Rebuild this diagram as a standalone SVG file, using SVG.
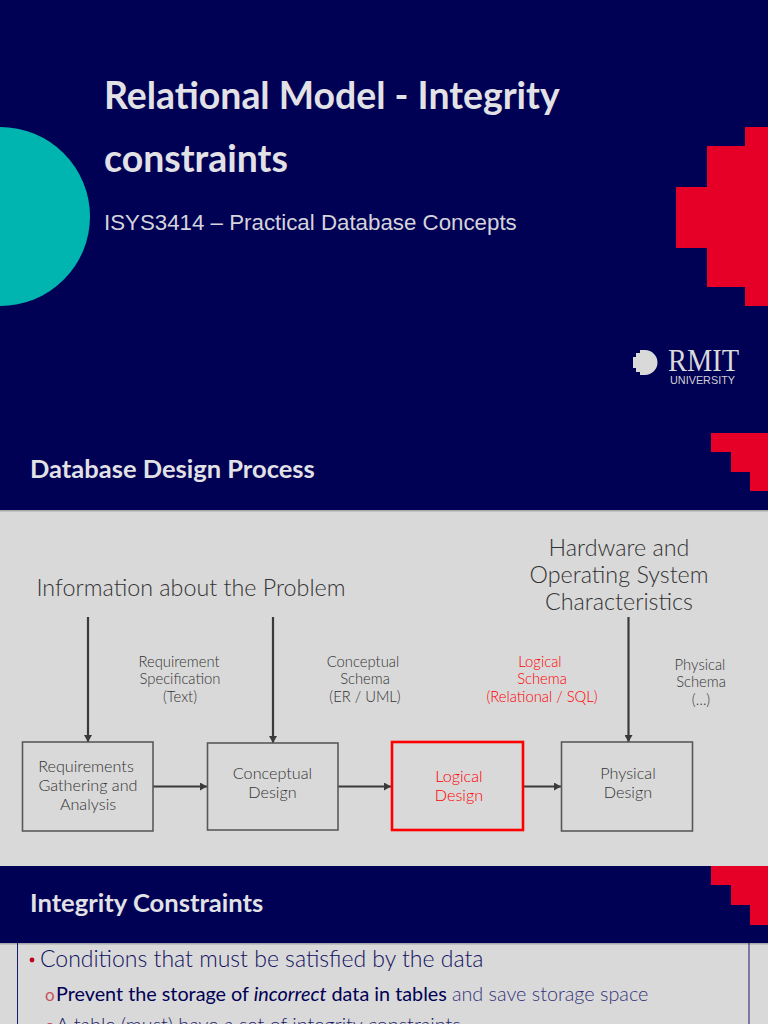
<svg xmlns="http://www.w3.org/2000/svg" width="768" height="1024" viewBox="0 0 768 1024">
<style>
.h{font-family:Lato,"Liberation Sans",sans-serif;font-weight:700;fill:#e2e2e6}
.b{font-family:Lato,"Liberation Sans",sans-serif;font-weight:300;fill:#333;text-anchor:middle;font-size:16.200px}
.s{font-size:14.800px}
.big{font-family:Lato,"Liberation Sans",sans-serif;font-weight:300;fill:#333;text-anchor:middle;font-size:23.300px}
.r{fill:#f00}
.box{fill:#d9d9d9;stroke:#595959;stroke-width:1.600}
.c{stroke:#3a3a3a;stroke-width:2.200;fill:none}
.red{fill:#e60028}
.l{font-family:Lato,sans-serif;font-size:19.800px}
</style>
<defs>
<marker id="a" markerUnits="userSpaceOnUse" markerWidth="8" markerHeight="8" refX="7" refY="4" orient="auto"><path d="M0 0L7 4L0 8z" fill="#3a3a3a"/></marker>
</defs>
<rect width="768" height="1024" fill="#d9d9d9"/>
<g id="slide1">
<rect width="768" height="510" fill="#000054"/>
<rect y="510" width="768" height="1.500" fill="#a8a8a8"/>
<path d="M0 127A90 89.500 0 0 1 0 306z" fill="#00b5b0"/>
<path class="red" d="M768 127H745V146H707V187H676V248H707V287H745V306H768z"/>
<text class="h" x="104" y="109" font-size="37.400">Relational Model - Integrity</text>
<text class="h" x="104" y="172" font-size="37.400">constraints</text>
<text x="104" y="230" font-family="Liberation Sans,sans-serif" font-size="22.300" fill="#d4d4da">ISYS3414 – Practical Database Concepts</text>
<g id="logo">
<path fill="#d9d9d9" d="M645 350A12.500 12.500 0 0 1 645 375H640V372H636V368H633V357H636V353H640V350z"/>
<text x="668" y="371" font-family="Liberation Serif,serif" font-size="31" textLength="71" lengthAdjust="spacingAndGlyphs" fill="#d9d9d9">RMIT</text>
<text x="670" y="384" font-family="Liberation Sans,sans-serif" font-size="10.500" textLength="65" lengthAdjust="spacingAndGlyphs" fill="#d0d0d4">UNIVERSITY</text>
</g>
<path class="red" d="M768 433H711V452H731V472H750V491H768z"/>
<text class="h" x="30" y="478" font-size="25.500">Database Design Process</text>
</g>
<g id="connectors">
<path class="c" marker-end="url(#a)" d="M88 617V742"/>
<path class="c" marker-end="url(#a)" d="M273 617V743"/>
<path class="c" marker-end="url(#a)" d="M628.500 617V742"/>
<path class="c" marker-end="url(#a)" d="M153 786.500H207"/>
<path class="c" marker-end="url(#a)" d="M338 786.500H391"/>
<path class="c" marker-end="url(#a)" d="M524 786.500H561"/>
</g>
<g id="info-problem"><text class="big" x="191" y="596">Information about the Problem</text></g>
<g id="info-hardware"><text class="big" x="619" y="556">Hardware and</text><text class="big" x="619" y="583">Operating System</text><text class="big" x="619" y="610">Characteristics</text></g>
<g id="label-requirement"><text class="b s" x="179" y="667">Requirement</text><text class="b s" x="180" y="684">Specification</text><text class="b s" x="180" y="702">(Text)</text></g>
<g id="label-conceptual"><text class="b s" x="363" y="667">Conceptual</text><text class="b s" x="365" y="684">Schema</text><text class="b s" x="365" y="702">(ER / UML)</text></g>
<g id="label-logical"><text class="b s r" x="540" y="667">Logical</text><text class="b s r" x="542" y="684">Schema</text><text class="b s r" x="542" y="702">(Relational / SQL)</text></g>
<g id="label-physical"><text class="b s" x="700" y="670">Physical</text><text class="b s" x="701" y="687">Schema</text><text class="b s" x="701" y="705">(…)</text></g>
<g id="node-requirements"><rect class="box" x="22.500" y="742" width="130.500" height="89"/><text class="b" x="86" y="772">Requirements</text><text class="b" x="88" y="791">Gathering and</text><text class="b" x="88" y="810">Analysis</text></g>
<g id="node-conceptual"><rect class="box" x="207.500" y="743" width="130.500" height="87"/><text class="b" x="272.500" y="779">Conceptual</text><text class="b" x="272.500" y="798">Design</text></g>
<g id="node-logical"><rect class="box" style="stroke:#f00;stroke-width:2.600" x="392" y="742" width="131" height="88"/><text class="b r" x="459" y="782">Logical</text><text class="b r" x="459" y="801">Design</text></g>
<g id="node-physical"><rect class="box" x="561.500" y="742" width="131" height="89"/><text class="b" x="628" y="779">Physical</text><text class="b" x="628" y="798">Design</text></g>
<g id="slide3">
<rect y="866" width="768" height="77" fill="#000054"/>
<rect y="943" width="768" height="1.500" fill="#a8a8a8"/>
<path class="red" d="M768 866H711V885H731V905H750V925H768z"/>
<text class="h" x="30" y="912" font-size="25.600">Integrity Constraints</text>
<path d="M17.500 943V1024M749 943V1024" stroke="#1a1a6e" stroke-width="1" fill="none"/>
<circle cx="32" cy="960" r="2.400" fill="#c00020"/>
<text x="40" y="967" font-family="Lato,sans-serif" font-weight="300" font-size="23" fill="#10105f">Conditions that must be satisfied by the data</text>
<text x="45" y="1001" font-family="Lato,sans-serif" font-size="17" fill="#c8505a">o</text>
<text class="l" x="56" y="1001" fill="#000054">Prevent the storage of <tspan font-style="italic">incorrect</tspan> data in tables <tspan fill="#33337a" font-weight="300">and save storage space</tspan></text>
<text x="45" y="1032" font-family="Lato,sans-serif" font-size="17" fill="#c8505a">o</text>
<text class="l" x="56" y="1032" fill="#1c1c6a" font-weight="300">A table (must) have a set of integrity constraints</text>
</g>
</svg>
